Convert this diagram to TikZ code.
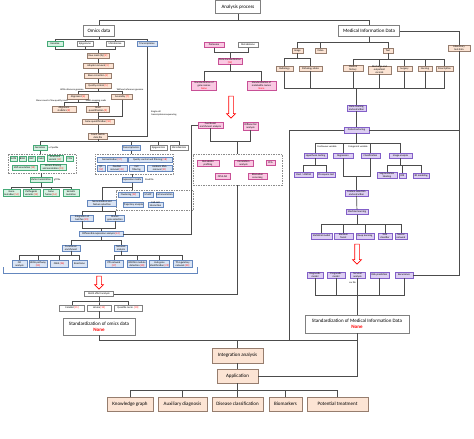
\documentclass[tikz,border=0pt]{standalone}
\usepackage{fontspec}
\setmainfont{Carlito}
\usetikzlibrary{shapes.arrows}
\definecolor{obfill}{RGB}{252,228,212}
\definecolor{obline}{RGB}{150,125,110}
\definecolor{gbfill}{RGB}{214,242,226}
\definecolor{gbline}{RGB}{70,170,120}
\definecolor{bbfill}{RGB}{218,228,244}
\definecolor{bbline}{RGB}{100,135,190}
\definecolor{pbfill}{RGB}{250,200,226}
\definecolor{pbline}{RGB}{200,80,150}
\definecolor{vbfill}{RGB}{220,206,242}
\definecolor{vbline}{RGB}{130,95,200}
\newcommand{\rd}[1]{\textcolor{red}{#1}}
\newcommand{\nonetext}{\textcolor{red}{\textbf{None}}}

\begin{document}
\begin{tikzpicture}[x=1pt, y=-1pt,
    ln/.style={draw=black!70, line width=0.7pt},
    box/.style={rectangle, draw, line width=0.3pt, inner sep=0.4pt, align=center,
      minimum height=5, font=\fontsize{2.6}{2.9}\selectfont},
    mw/.style={minimum width=#1},
    ob/.style={box, fill=obfill, draw=obline},
    gb/.style={box, fill=gbfill, draw=gbline},
    bb/.style={box, fill=bbfill, draw=bbline},
    pb/.style={box, fill=pbfill, draw=pbline},
    vb/.style={box, fill=vbfill, draw=vbline},
    wb/.style={box, fill=white, draw=black!50},
    big/.style={font=\fontsize{5}{6}\selectfont, line width=0.5pt, inner sep=1pt},
    lab/.style={inner sep=0pt, font=\fontsize{2.4}{2.8}\selectfont, align=center},
    grp/.style={rectangle, draw=black!45, line width=0.5pt, dash pattern=on 1.5pt off 1pt},
    rarr/.style={single arrow, draw=red, fill=white, line width=0.6pt, rotate=-90,
      inner sep=2pt, minimum width=0pt, single arrow head extend=2.2pt,
      single arrow head indent=0pt}]
\path[use as bounding box, fill=white] (0,0) rectangle (474,439);

% top level
\node[wb, big, minimum width=45, minimum height=13] (ap) at (238,7) {Analysis process};
\node[wb, big, mw=31, minimum height=11] (od) at (99,31) {Omics data};
\node[wb, big, mw=61, minimum height=11] (mi) at (369,31) {Medical Information Data};
\foreach \c in {od,mi} \draw[ln] (ap.south) -- ++(0,6.5) -| (\c.north);

% omics data
\node[gb, mw=16] (g1) at (55,44) {Genome};
\node[wb, mw=16] (g2) at (85,44) {Epigenome};
\node[wb, mw=18] (g3) at (115,44) {Microbiome};
\node[bb, mw=20] (g4) at (147,44) {Transcriptome};
\foreach \c in {g1,g2,g3,g4} \draw[ln] (od.south) -- ++(0,2.5) -| (\c.north);

\node[ob, mw=22] (r1) at (98,56) {Raw reads (fq) \rd{[2]}};
\node[ob, mw=30] (r2) at (98,66) {Adapter removal \rd{[3]}};
\node[ob, mw=27] (r3) at (98,76) {Base correction \rd{[4]}};
\node[ob, mw=26] (r4) at (98,86) {Quality control \rd{[5]}};
\foreach \c in {g1,g2,g3} \draw[ln] (\c.south) |- ([yshift=4pt]r1.north) -- (r1.north);
\draw[ln] (r1) -- (r2); \draw[ln] (r2) -- (r3); \draw[ln] (r3) -- (r4);

\node[ob, mw=21] (r5) at (78,97) {Alignment \rd{[6]}};
\node[ob, mw=21] (r6) at (122,97) {Assembly \rd{[7]}};
\foreach \c in {r5,r6} \draw[ln] (r4.south) -- ++(0,3) -| (\c.north);
\node[lab, anchor=south] at (72,91) {With reference genome};
\node[lab, anchor=south] at (130,91) {Without reference genome};

\node[ob, mw=24] (r7) at (64,109) {Alignment\\statistics \rd{[8]}};
\node[ob, mw=23] (r8) at (98,109) {Read\\quantification \rd{[9]}};
\foreach \c in {r7,r8} \draw[ln] (r5.south) -- ++(0,3) -| (\c.north);
\node[lab, anchor=south] at (52,102.3) {Mean count of low-quality reads};
\node[lab, anchor=south] at (96,102.3) {Multi-mapping reads};

\node[ob, mw=32] (r9) at (98,122) {Gene quantification \rd{[10]}};
\node[ob, mw=19] (r10) at (98,136) {Count matrix\\data file};
\draw[ln] (r8) -- (r9);
\draw[ln] (r6.south) |- ([yshift=3pt]r9.north) -- (r9.north);
\draw[ln] (r9) -- (r10);
\draw[ln] (g4.south) |- (r10.east);
\node[lab, anchor=west, align=left] at (151,113.5) {Single cell\\transcriptome sequencing};

\node[gb, mw=14] (c1) at (40,148) {Genomics};
\node[bb, mw=16] (c2) at (131,148) {Transcriptomics};
\node[wb, mw=17] (c3) at (158.5,148) {Epigenomics};
\node[wb, mw=18] (c4) at (179,148) {Microbiomics};
\foreach \c in {c1,c2,c3,c4} \draw[ln] (r10.south) -- ++(0,2.5) -| (\c.north);
\node[lab, anchor=west] at (48.5,148) {vcf profile};

% genomics
\node[grp, mw=68, minimum height=19] (ggrp) at (42,163.5) {};
\draw[ln] (c1.south) -- (c1.south |- ggrp.north);
\node[gb, mw=7] (gd1) at (13.5,158.5) {GATK};
\node[gb, mw=7] (gd2) at (22.5,158.5) {BWA};
\node[gb, mw=7] (gd3) at (31.5,158.5) {SNP};
\node[gb, mw=7] (gd4) at (41,158.5) {Indel};
\node[gb, mw=16] (gd5) at (55,158.5) {Structural\\variant \rd{[11]}};
\node[gb, mw=7] (gd6) at (70,158.5) {CNV};
\node[gb, mw=25] (gd7) at (24.5,167.5) {SNP annotation \rd{[12]}};
\node[gb, mw=26] (gd8) at (53,167.5) {Variant filtering\\and annotation \rd{[13]}};

\node[gb, mw=22] (ga) at (41,180) {Variant annotation};
\draw[ln] (ggrp.south -| ga.north) -- (ga.north);
\node[lab, anchor=west] at (54,180) {gff file};
\node[gb, mw=17, minimum height=7] (ga1) at (11.5,193) {Gene\\mutation \rd{[14]}};
\node[gb, mw=17, minimum height=7] (ga2) at (31.5,193) {Pathogenic\\variants \rd{[15]}};
\node[gb, mw=16, minimum height=7] (ga3) at (51,193) {Gene\\fusion \rd{[16]}};
\node[gb, mw=16, minimum height=7] (ga4) at (71,193) {Somatic\\mutation};
\foreach \c in {ga1,ga2,ga3,ga4} \draw[ln] (ga.south) -- ++(0,4.5) -| (\c.north);

% transcriptomics
\node[grp, mw=78, minimum height=20] (bgrp) at (134,164) {};
\draw[ln] (c2.south) -- (c2.south |- bgrp.north);
\node[bb, mw=30] (bd1) at (112,159.5) {Normalization \rd{[17]}};
\node[bb, mw=44] (bd2) at (150,159.5) {Quality control and filtering \rd{[18]}};
\node[bb, mw=8] (bd3) at (101,168.5) {QC\\\rd{[19]}};
\node[bb, mw=20] (bd4) at (117,168.5) {Doublet\\removal \rd{[20]}};
\node[bb, mw=15] (bd5) at (136.5,168.5) {Cell\\filtering};
\node[bb, mw=25] (bd6) at (159.5,168.5) {Ambient RNA\\removal \rd{[21]}};

\node[bb, mw=20] (bm) at (132,180) {Expression matrix};
\draw[ln] (bgrp.south -| bm.north) -- (bm.north);
\node[lab, anchor=west] at (145,180) {h5ad file};

\node[grp, mw=77, minimum height=20] (sgrp) at (154.5,200) {};
\draw[ln] (bm.south) -- (bm.south |- sgrp.north);
\node[bb, mw=21] (s1) at (128.5,194.5) {Clustering \rd{[22]}};
\node[bb, mw=10] (s2) at (148,194.5) {UMAP};
\node[bb, mw=17] (s3) at (164.5,194.5) {Cell annotation};
\node[bb, mw=19] (s4) at (133.5,204.5) {Trajectory analysis};
\node[bb, mw=15] (s5) at (155.5,204.5) {Cell-cell\\interaction};

\node[bb, mw=29] (bd) at (102,203) {Normalization and\\feature selection};
\draw[ln] (bm.south) -- ++(0,5) -| (bd.north);
\node[bb, mw=23] (bn1) at (82,218) {Integration of\\batches \rd{[23]}};
\node[bb, mw=19] (bn2) at (115,218) {Marker\\gene selection};
\foreach \c in {bn1,bn2} \draw[ln] (bd.south) -- ++(0,5) -| (\c.north);
\node[bb, mw=44] (dea) at (101,234) {Differential expression analysis \rd{[24]}};
\foreach \c in {bn1,bn2} \draw[ln] (\c.south) |- ([yshift=3.5pt]dea.north) -- (dea.north);

\node[bb, mw=18] (dc1) at (71,248) {Functional\\enrichment};
\node[bb, mw=13] (dc2) at (121,248) {Network\\analysis};
\foreach \c in {dc1,dc2} \draw[ln] (dea.south) -- ++(0,3.5) -| (\c.north);
\node[bb, mw=15, minimum height=7] (l1) at (19.5,264) {GO\\analysis};
\node[bb, mw=18, minimum height=7] (l2) at (38,264) {KEGG pathway\\\rd{[25]}};
\node[bb, mw=18, minimum height=7] (l3) at (59,264) {GSEA \rd{[26]}};
\node[bb, mw=15, minimum height=7] (l4) at (79.5,264) {Reactome};
\node[bb, mw=18, minimum height=7] (l5) at (114,264) {PPI network\\\rd{[27]}};
\node[bb, mw=19, minimum height=7] (l6) at (137,264) {WGCNA module\\detection \rd{[28]}};
\node[bb, mw=20, minimum height=7] (l7) at (159.5,264) {Hub gene\\identification \rd{[29]}};
\node[bb, mw=19, minimum height=7] (l8) at (182.5,264) {TF regulatory\\network \rd{[30]}};
\foreach \c in {l1,l2,l3,l4} \draw[ln] (dc1.south) -- ++(0,4) -| (\c.north);
\foreach \c in {l5,l6,l7,l8} \draw[ln] (dc2.south) -- ++(0,4) -| (\c.north);
\draw[bbline, line width=0.8pt] (3,267) -- (3,273) -- (197,273) -- (197,267);

% batch effect
\node[rarr, minimum height=13] (a1) at (99,281.5) {};
\node[wb, mw=29] (be) at (99,294) {Batch effect analysis};
\node[wb, mw=25, minimum height=6] (b1) at (72,308) {ComBat \rd{[31]}};
\node[wb, mw=24, minimum height=6] (b2) at (99,308) {Limma \rd{[32]}};
\node[wb, mw=28, minimum height=6] (b3) at (128,308) {Quantile norm. \rd{[33]}};
\foreach \c in {b1,b2,b3} \draw[ln] (be.south) -- ++(0,4.5) -| (\c.north);
\node[wb, big, mw=72, minimum height=17] (so) at (99,326.5) {Standardization of omics data\\\nonetext};
\draw[ln] (b2) -- (so);

% proteome and metabolome
\node[pb, mw=20] (p1) at (214,45) {Proteome};
\node[wb, mw=20] (p2) at (248,45) {Metabolome};
\node[pb, mw=24] (p3) at (230,61) {Data standardization\\\rd{[34]}};
\foreach \c in {p1,p2} \draw[ln] (\c.south) |- ([yshift=5.5pt]p3.north) -- (p3.north);
\node[pb, mw=25] (p4) at (204,85.5) {Standardization of\\gene names\\\rd{None}};
\node[pb, mw=29] (p5) at (261.5,85.5) {Standardization of\\metabolite names\\\rd{None}};
\foreach \c in {p4,p5} \draw[ln] (p3.south) -- ++(0,7.5) -| (\c.north);
\node[rarr, minimum height=22] (a2) at (231,106) {};
\node[pb, mw=25] (p6) at (210.5,125) {Functional\\enrichment analysis};
\node[pb, mw=15, minimum height=8] (p7) at (250.5,126) {Differential\\analysis};
\node[grp, mw=89, minimum height=31] (pgrp) at (237.5,169.5) {};
\draw[ln] (p6.south) |- ([yshift=12pt]pgrp.north) -| (p7.south);
\draw[ln] (pgrp.north) -- ++(0,-12);
\draw[ln] (p6.west) -- ++(-7,0) |- (dea.east);
\node[pb, mw=22] (pd1) at (208,163) {Metabolite\\profiling};
\node[pb, mw=19] (pd2) at (243.5,163) {Correlation\\analysis};
\node[pb, mw=9] (pd3) at (270.5,163) {PCA};
\node[pb, mw=15, minimum height=6] (pd4) at (222.5,176.5) {OPLS-DA};
\node[pb, mw=19] (pd5) at (257.5,176.5) {Biomarker\\screening};
\draw[ln] (pgrp.south) |- (be.east);

% medical information
\node[ob, mw=11] (m1) at (297.5,50.5) {Image};
\node[ob, mw=11] (m2) at (320.5,50.5) {Video};
\node[ob, mw=10] (m3) at (388,50.5) {Text};
\node[ob, mw=22] (m0) at (459,48) {Laboratory\\test data};
\foreach \c in {m1,m2,m3} \draw[ln] (mi.south) -- ++(0,5.5) -| (\c.north);
\draw[ln] (mi.east) -| (m0.north);
\node[ob, mw=17] (m11) at (284.5,68.5) {Radiology};
\node[ob, mw=23] (m12) at (310.5,68.5) {Pathology slides};
\foreach \c in {m11,m12} \draw[ln] (m1.south) -- ++(0,5) -| (\c.north);
\node[ob, mw=20] (m31) at (353,68.5) {Medical\\history};
\node[ob, mw=23] (m32) at (379.5,70) {Discharge and\\outpatient\\records};
\node[ob, mw=15] (m33) at (404.5,68.5) {Surgery};
\node[ob, mw=14] (m34) at (425,68.5) {Nursing};
\node[ob, mw=17] (m35) at (444.5,68.5) {Prescription};
\foreach \c in {m31,m32,m33,m34,m35} \draw[ln] (m3.south) -- ++(0,6) -| (\c.north);

\node[vb, mw=19] (dc) at (356.5,108) {Data cleaning\\and extraction};
\foreach \c in {m11,m12,m31,m32,m33,m34,m35} \draw[ln] (\c.south) |- ([yshift=16.5pt]dc.north) -- (dc.north);
\node[vb, mw=25, minimum height=6] (st) at (356.5,130) {Data structuring};
\draw[ln] (dc) -- (st);
\draw[ln] (m0.south) |- (st.east);

\node[vb, mw=23] (v1) at (315.5,155.5) {Hypothesis testing};
\node[vb, mw=20] (v2) at (343,155.5) {Regression};
\node[vb, mw=19] (v3) at (370.5,155.5) {Classification};
\node[vb, mw=23] (v4) at (400.5,155.5) {Image analysis};
\foreach \c in {v1,v2,v3,v4} \draw[ln] (st.south) -- ++(0,10) -| (\c.north);
\node[lab] at (327,146.5) {Continuous variable};
\node[lab] at (358,146.5) {Categorical variable};
\node[vb, mw=19] (v11) at (303.5,175) {t-test / ANOVA};
\node[vb, mw=18] (v12) at (326,175) {Chi-square test};
\foreach \c in {v11,v12} \draw[ln] (v1.south) -- ++(0,7) -| (\c.north);
\node[vb, mw=23] (v5) at (356.5,193) {Feature selection\\and extraction};
\foreach \c in {v2,v3} \draw[ln] (\c.south) |- ([yshift=14pt]v5.north) -- (v5.north);
\node[vb, mw=20] (v41) at (387,175.5) {Segmentation\\labeling};
\node[vb, mw=7] (v42) at (402.5,175.5) {ROI};
\node[vb, mw=16] (v43) at (421,175.5) {3D modeling};
\foreach \c in {v41,v42,v43} \draw[ln] (v4.south) -- ++(0,7) -| (\c.north);
\node[vb, mw=22] (ml) at (357,212) {Machine learning};
\draw[ln] (v5) -- (ml);
\node[vb, mw=21, minimum height=6] (w1) at (321.5,236) {Statistical model};
\node[vb, mw=19] (w2) at (343.5,236) {Random\\forest};
\node[vb, mw=18, minimum height=6] (w3) at (365,236) {Deep learning};
\node[vb, mw=14] (w4) at (385,236) {SVM\\classifier};
\node[vb, mw=12] (w5) at (401,236) {Neural\\network};
\foreach \c in {w1,w2,w3,w4,w5} \draw[ln] (ml.south) -- ++(0,9.5) -| (\c.north);
\node[rarr, minimum height=20] (a3) at (357,253) {};

\node[vb, mw=16] (x1) at (315,275) {Diagnostic\\model};
\node[vb, mw=18] (x2) at (336,275) {Prognostic\\model};
\node[vb, mw=15] (x3) at (357.5,275) {Survival\\analysis};
\node[vb, mw=19, minimum height=6] (x4) at (379.5,275) {Risk prediction};
\node[vb, mw=18, minimum height=6] (x5) at (404,275) {Recurrence};
\draw[ln] (m0.south) |- (x5.east);
\node[lab, anchor=east] at (356,282.5) {csv file};
\node[wb, big, mw=104, minimum height=18] (sm) at (357,324) {Standardization of Medical Information Data\\\nonetext};
\foreach \c in {x1,x2,x3,x4,x5} \draw[ln] (\c.south) |- ([yshift=19pt]sm.north) -- (sm.north);

% integration and application
\node[ob, big, mw=51, minimum height=15] (ia) at (237.5,355.5) {Integration analysis};
\node[ob, big, mw=41, minimum height=14] (app) at (237.5,376) {Application};
\draw[ln] (so.south) |- ([yshift=7.5pt]ia.north) -- (ia.north);
\draw[ln] (sm.south) |- ([yshift=7.5pt]ia.north);
\draw[ln] (st.west) -- ++(-55,0) |- ([yshift=7.5pt]ia.north);
\draw[ln] (sm.south) |- (app.east);
\draw[ln] (ia) -- (app);
\node[ob, big, mw=46, minimum height=14] (k1) at (130,404) {Knowledge graph};
\node[ob, big, mw=49, minimum height=14] (k2) at (182.5,404) {Auxiliary diagnosis};
\node[ob, big, mw=51, minimum height=14] (k3) at (237.5,404) {Disease classification};
\node[ob, big, mw=33, minimum height=14] (k4) at (285.5,404) {Biomarkers};
\node[ob, big, mw=61, minimum height=14] (k5) at (337.5,404) {Potential treatment};
\foreach \c in {k1,k2,k3,k4,k5} \draw[ln] (app.south) -- ++(0,7) -| (\c.north);
\end{tikzpicture}
\end{document}
